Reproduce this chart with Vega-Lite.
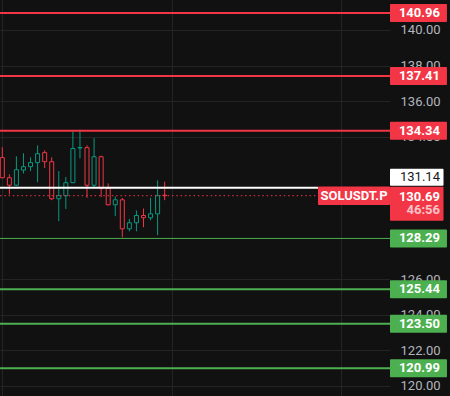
{
  "$schema": "https://vega.github.io/schema/vega-lite/v6.json",
  "width": 390,
  "height": 396,
  "padding": {"left": 0, "top": 0, "right": 60, "bottom": 0},
  "autosize": {"type": "none"},
  "background": "#111111",
  "config": {"view": {"stroke": null}, "font": "Roboto"},
  "datasets": {
    "candles": [
      {"i": 0, "open": 132.83, "high": 133.41, "low": 131.70, "close": 131.70},
      {"i": 1, "open": 131.70, "high": 131.89, "low": 130.76, "close": 131.28},
      {"i": 2, "open": 131.28, "high": 132.90, "low": 131.25, "close": 132.15},
      {"i": 3, "open": 132.13, "high": 133.07, "low": 131.94, "close": 132.32},
      {"i": 4, "open": 132.32, "high": 132.85, "low": 132.07, "close": 132.55},
      {"i": 5, "open": 132.55, "high": 133.52, "low": 131.45, "close": 133.05},
      {"i": 6, "open": 133.11, "high": 133.24, "low": 132.24, "close": 132.60},
      {"i": 7, "open": 132.60, "high": 132.85, "low": 130.44, "close": 130.52},
      {"i": 8, "open": 130.52, "high": 132.07, "low": 129.26, "close": 130.69},
      {"i": 9, "open": 130.69, "high": 131.74, "low": 129.95, "close": 131.42},
      {"i": 10, "open": 131.42, "high": 134.30, "low": 131.40, "close": 133.34},
      {"i": 11, "open": 133.37, "high": 134.40, "low": 132.79, "close": 133.40},
      {"i": 12, "open": 133.39, "high": 133.52, "low": 130.57, "close": 131.28},
      {"i": 13, "open": 131.28, "high": 133.92, "low": 131.17, "close": 132.88},
      {"i": 14, "open": 132.88, "high": 132.94, "low": 130.61, "close": 131.10},
      {"i": 15, "open": 131.10, "high": 131.38, "low": 130.15, "close": 130.18},
      {"i": 16, "open": 130.18, "high": 130.65, "low": 129.54, "close": 130.46},
      {"i": 17, "open": 130.46, "high": 130.57, "low": 128.35, "close": 128.83},
      {"i": 18, "open": 128.83, "high": 129.39, "low": 128.69, "close": 129.17},
      {"i": 19, "open": 129.17, "high": 129.86, "low": 128.69, "close": 129.58},
      {"i": 20, "open": 129.58, "high": 129.97, "low": 128.92, "close": 129.45},
      {"i": 21, "open": 129.45, "high": 130.57, "low": 129.31, "close": 129.67},
      {"i": 22, "open": 129.67, "high": 131.55, "low": 128.47, "close": 130.69},
      {"i": 23, "open": 130.72, "high": 131.48, "low": 130.44, "close": 130.69}
    ],
    "levels": [
      {"price": 140.96, "side": "resistance"},
      {"price": 137.41, "side": "resistance"},
      {"price": 134.34, "side": "resistance"},
      {"price": 128.29, "side": "support"},
      {"price": 125.44, "side": "support"},
      {"price": 123.50, "side": "support"},
      {"price": 120.99, "side": "support"}
    ],
    "quotes": [
      {"kind": "mark", "price": 131.14, "label": "131.14"},
      {"kind": "last", "price": 130.69, "label": "130.69", "countdown": "46:56", "symbol": "SOLUSDT.P"}
    ]
  },
  "layer": [
    {
      "data": {"name": "candles"},
      "mark": {"type": "rule", "strokeWidth": 1},
      "encoding": {
        "x": {
          "field": "i", "type": "quantitative",
          "scale": {"domain": [-0.326, 54.92], "nice": false, "zero": false, "padding": 0},
          "axis": {"values": [0, 24, 48], "labels": false, "ticks": false, "domain": false, "grid": true, "gridColor": "#242424", "title": null}
        },
        "y": {
          "field": "low", "type": "quantitative",
          "scale": {"domain": [119.438, 141.685], "nice": false, "zero": false, "padding": 0},
          "axis": {
            "orient": "right",
            "values": [120, 122, 124, 126, 134, 136, 138, 140],
            "gridValues": [120, 122, 124, 126, 128, 130, 132, 134, 136, 138, 140],
            "format": ".2f", "labelAlign": "right", "labelPadding": 50,
            "ticks": false, "domain": false, "grid": true, "gridColor": "#242424",
            "labelColor": "#b2b5be", "labelFontSize": 13, "labelFont": "Roboto", "title": null
          }
        },
        "y2": {"field": "high"},
        "color": {"condition": {"test": "datum.close >= datum.open", "value": "#089981"}, "value": "#f23645"}
      }
    },
    {
      "data": {"name": "candles"},
      "mark": {"type": "bar", "orient": "vertical", "size": 4, "fill": "#111111", "strokeWidth": 1},
      "encoding": {
        "x": {"field": "i", "type": "quantitative", "title": null},
        "y": {"field": "open", "type": "quantitative", "title": null},
        "y2": {"field": "close"},
        "stroke": {"condition": {"test": "datum.close >= datum.open", "value": "#089981"}, "value": "#f23645"}
      }
    },
    {
      "data": {"name": "levels"},
      "mark": {"type": "rule"},
      "encoding": {
        "y": {"field": "price", "type": "quantitative", "title": null},
        "color": {"condition": {"test": "datum.side === 'resistance'", "value": "#f23645"}, "value": "#4caf50"},
        "strokeWidth": {"condition": {"test": "datum.price === 128.29", "value": 1}, "value": 2}
      }
    },
    {
      "data": {"name": "quotes"},
      "transform": [{"filter": "datum.kind === 'mark'"}],
      "mark": {"type": "rule", "color": "#ffffff", "strokeWidth": 2},
      "encoding": {
        "x": {"datum": -0.326, "type": "quantitative", "title": null},
        "x2": {"datum": 44.72},
        "y": {"field": "price", "type": "quantitative", "title": null}
      }
    },
    {
      "data": {"name": "quotes"},
      "transform": [{"filter": "datum.kind === 'last'"}],
      "mark": {"type": "rule", "color": "#f23645", "strokeWidth": 1, "strokeDash": [1.5, 2.8]},
      "encoding": {
        "x": {"datum": -0.326, "type": "quantitative", "title": null},
        "x2": {"datum": 44.72},
        "y": {"field": "price", "type": "quantitative", "title": null}
      }
    },
    {
      "data": {"name": "levels"},
      "mark": {"type": "bar", "orient": "horizontal", "size": 18, "cornerRadius": 1},
      "encoding": {
        "x": {"datum": 54.92, "type": "quantitative", "title": null},
        "x2": {"datum": 62.99},
        "y": {"field": "price", "type": "quantitative", "title": null},
        "color": {"condition": {"test": "datum.side === 'resistance'", "value": "#f23645"}, "value": "#4caf50"}
      }
    },
    {
      "data": {"name": "levels"},
      "mark": {"type": "text", "align": "right", "baseline": "middle", "fontSize": 13, "fontWeight": "bold", "color": "#ffffff", "font": "Roboto"},
      "encoding": {
        "x": {"datum": 62.0, "type": "quantitative", "title": null},
        "y": {"field": "price", "type": "quantitative", "title": null},
        "text": {"field": "price", "type": "quantitative", "format": ".2f"}
      }
    },
    {
      "data": {"name": "quotes"},
      "transform": [{"filter": "datum.kind === 'mark'"}],
      "mark": {"type": "bar", "orient": "horizontal", "size": 17, "color": "#ffffff", "yOffset": -10.5, "cornerRadius": 1},
      "encoding": {
        "x": {"datum": 54.92, "type": "quantitative", "title": null},
        "x2": {"datum": 62.5},
        "y": {"field": "price", "type": "quantitative", "title": null}
      }
    },
    {
      "data": {"name": "quotes"},
      "transform": [{"filter": "datum.kind === 'mark'"}],
      "mark": {"type": "text", "align": "right", "baseline": "middle", "fontSize": 13, "color": "#131722", "yOffset": -10.5, "font": "Roboto"},
      "encoding": {
        "x": {"datum": 62.0, "type": "quantitative", "title": null},
        "y": {"field": "price", "type": "quantitative", "title": null},
        "text": {"field": "label"}
      }
    },
    {
      "data": {"name": "quotes"},
      "transform": [{"filter": "datum.kind === 'last'"}],
      "mark": {"type": "bar", "orient": "horizontal", "size": 34, "color": "#f23645", "yOffset": 8, "cornerRadius": 1},
      "encoding": {
        "x": {"datum": 54.92, "type": "quantitative", "title": null},
        "x2": {"datum": 62.5},
        "y": {"field": "price", "type": "quantitative", "title": null}
      }
    },
    {
      "data": {"name": "quotes"},
      "transform": [{"filter": "datum.kind === 'last'"}],
      "mark": {"type": "bar", "orient": "horizontal", "size": 18.5, "color": "#f23645", "cornerRadius": 1},
      "encoding": {
        "x": {"datum": 44.72, "type": "quantitative", "title": null},
        "x2": {"datum": 54.92},
        "y": {"field": "price", "type": "quantitative", "title": null}
      }
    },
    {
      "data": {"name": "quotes"},
      "transform": [{"filter": "datum.kind === 'last'"}],
      "mark": {"type": "text", "align": "center", "baseline": "middle", "fontSize": 13, "fontWeight": "bold", "color": "#ffffff", "font": "Roboto"},
      "encoding": {
        "x": {"datum": 49.82, "type": "quantitative", "title": null},
        "y": {"field": "price", "type": "quantitative", "title": null},
        "text": {"field": "symbol"}
      }
    },
    {
      "data": {"name": "quotes"},
      "transform": [{"filter": "datum.kind === 'last'"}],
      "mark": {"type": "text", "align": "right", "baseline": "middle", "fontSize": 13, "fontWeight": "bold", "color": "#ffffff", "yOffset": 1.5, "font": "Roboto"},
      "encoding": {
        "x": {"datum": 62.0, "type": "quantitative", "title": null},
        "y": {"field": "price", "type": "quantitative", "title": null},
        "text": {"field": "label"}
      }
    },
    {
      "data": {"name": "quotes"},
      "transform": [{"filter": "datum.kind === 'last'"}],
      "mark": {"type": "text", "align": "right", "baseline": "middle", "fontSize": 13, "fontWeight": "bold", "color": "#ffffff", "opacity": 0.7, "yOffset": 14.5, "font": "Roboto"},
      "encoding": {
        "x": {"datum": 62.0, "type": "quantitative", "title": null},
        "y": {"field": "price", "type": "quantitative", "title": null},
        "text": {"field": "countdown"}
      }
    }
  ]
}
